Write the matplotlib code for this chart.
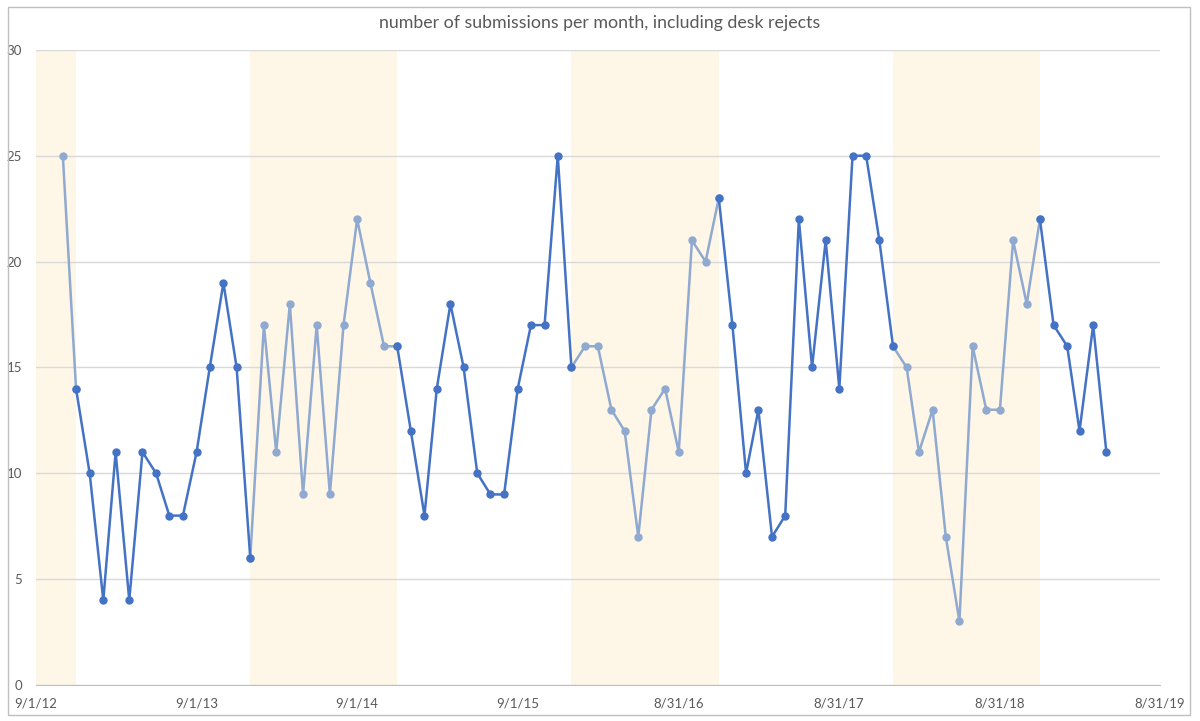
"""Monthly submissions chart, Excel look."""
import numpy as np
import pandas as pd
import matplotlib
matplotlib.use('Agg')
import matplotlib.pyplot as plt
from matplotlib.patches import Rectangle

plt.rcParams['font.family'] = ['Lato', 'DejaVu Sans']

# values, Nov 2012 .. May 2019
months = pd.date_range('2012-11-01', '2019-05-01', freq='MS')
counts = [25, 14,
          10, 4, 11, 4, 11, 10, 8, 8, 11, 15, 19, 15,
          6, 17, 11, 18, 9, 17, 9, 17, 22, 19, 16, 16,
          12, 8, 14, 18, 15, 10, 9, 9, 14, 17, 17, 25,
          15, 16, 16, 13, 12, 7, 13, 14, 11, 21, 20, 23,
          17, 10, 13, 7, 8, 22, 15, 21, 14, 25, 25, 21,
          16, 15, 11, 13, 7, 3, 16, 13, 13, 21, 18, 22,
          17, 16, 12, 17, 11]
light_years = [2012, 2014, 2016, 2018]
shaded = [('2012-09-01', '2012-12-01'), ('2014-01-01', '2014-12-01'),
          ('2016-01-01', '2016-12-01'), ('2018-01-01', '2018-12-01')]
tick_dates = ['2012-09-01', '2013-09-01', '2014-09-01', '2015-09-01',
              '2016-08-31', '2017-08-31', '2018-08-31', '2019-08-31']
tick_labels = ['9/1/12', '9/1/13', '9/1/14', '9/1/15',
               '8/31/16', '8/31/17', '8/31/18', '8/31/19']

vals = np.array(counts, dtype=float)
is_light = np.isin(months.year, light_years)
dark = ~is_light
dark_ext = dark.copy()
dark_ext[1:] |= dark[:-1]
dark_ext[:-1] |= dark[1:]
light_vals = np.where(is_light, vals, np.nan)
dark_vals = np.where(dark_ext, vals, np.nan)

DARK = '#4472C4'
LIGHT = '#8FA9D0'
GREY = '#595959'

fig = plt.figure(figsize=(12, 7.21), dpi=100)
ax = fig.add_axes([0.03, 0.05, 0.9367, 0.8808])

for a, b in shaded:
    ax.axvspan(pd.Timestamp(a), pd.Timestamp(b), color='#FEF6E7', lw=0, zorder=0)

ax.plot(months, light_vals, '-o', color=LIGHT, lw=1.8, ms=5, zorder=3)
ax.plot(months, dark_vals, '-o', color=DARK, lw=1.8, ms=5, zorder=4)

ax.set_ylim(0, 30)
ax.set_yticks(range(0, 31, 5))
ax.set_xlim(pd.Timestamp(tick_dates[0]), pd.Timestamp(tick_dates[-1]))
ax.set_xticks([pd.Timestamp(d) for d in tick_dates])
ax.set_xticklabels(tick_labels)
ax.grid(axis='y', color='#D9D9D9', lw=1, zorder=1)
ax.set_axisbelow(True)
for s in ['top', 'right', 'left']:
    ax.spines[s].set_visible(False)
ax.spines['bottom'].set_color('#BFBFBF')
ax.tick_params(length=0, colors=GREY, labelsize=9.5)
ax.tick_params(axis='x', pad=9)
ax.tick_params(axis='y', pad=10)

fig.text(0.5, 1 - 23 / 721, 'number of submissions per month, including desk rejects',
         ha='center', va='center', fontsize=12.8, color=GREY)

fig.patches.append(Rectangle((8 / 1200, 6 / 721), 1182 / 1200, 708 / 721,
                             transform=fig.transFigure, fill=False,
                             ec='#BFBFBF', lw=1))

fig.savefig('out.png', dpi=100)
